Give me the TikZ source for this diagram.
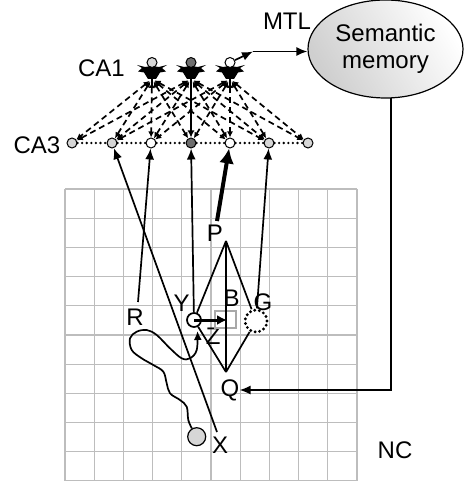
\documentclass[tikz,border=0pt]{standalone}
\usepackage{fontspec}
\setmainfont{Liberation Sans}
\usetikzlibrary{arrows.meta,shapes.geometric}
\definecolor{lgray}{HTML}{D6D6D6}
\definecolor{dgray}{HTML}{6E6E6E}
\definecolor{gridc}{HTML}{BDBDBD}
\definecolor{boxc}{HTML}{A8A8A8}
\begin{document}
\begin{tikzpicture}[x=1pt,y=-1pt,
  lab/.style={font=\fontsize{24}{28}\selectfont, inner sep=0},
  cell/.style={circle,draw,line width=1pt,minimum size=10pt,inner sep=0},
  dline/.style={dash pattern=on 6pt off 4pt, line width=1.7pt, shorten <=3pt,
     {Latex[length=6pt,width=6pt]}-{Latex[length=6pt,width=6pt]}},
  inp/.style={line width=1.7pt,-{Latex[length=11pt,width=9pt]}},
  thin/.style={line width=1.7pt},
  dotline/.style={line width=2.6pt, dash pattern=on 0pt off 4.6pt, line cap=round},
]
\useasboundingbox (0,0) rectangle (474,481);

% grid
\foreach \i in {0,...,10} {
  \draw[gridc, line width=1.1pt] ({65+29.2*\i},189) -- ({65+29.2*\i},481);
  \draw[gridc, line width=1.1pt] (65,{189+29.2*\i}) -- (357,{189+29.2*\i});
}

% CA3 cells
\foreach \x/\c/\n in {72/lgray/0,112/lgray/1,151/white/2,191/dgray/3,230/white/4,269/lgray/5,308/lgray/6}
  \node[cell,fill=\c] (c\n) at (\x,143) {};
\foreach \i/\j in {0/1,1/2,2/3,3/4,4/5,5/6}
  \draw[dotline] (c\i) -- (c\j);

% CA1 cells
\foreach \x/\c/\n in {152/lgray/0,191/dgray/1,230/white/2} {
  \fill (\x-15,65) -- (\x-10,68) -- (\x-14,71.5) -- (\x-8,72.5) -- (\x-4,79) -- (\x+4,79)
     -- (\x+8,72.5) -- (\x+14,71.5) -- (\x+10,68) -- (\x+15,65) -- (\x+7,67) -- (\x,66)
     -- (\x-7,67) -- cycle;
  \node[cell,fill=\c] (a\n) at (\x,62.5) {};
  \coordinate (s\n) at (\x,79);
}
\draw[thin] (s0) -- (152,86);
\draw[thin] (s2) -- (230,86);

% dashed CA1-CA3 links
\foreach \k/\i in {0/0,0/1,0/2,0/3,0/4,0/5,1/0,1/1,1/2,1/4,1/5,1/6,2/1,2/2,2/3,2/4,2/5,2/6}
  \draw[dline] (s\k) -- (c\i);
\draw[line width=1.7pt,-{Latex[length=7pt,width=7pt]}] (s1) -- (c3);

% labels
\node[lab] (ca1) at (101.5,68.5) {CA1};
\node[lab] (ca3) at (37,145) {CA3};
\node[lab] (mtl) at (287,21) {MTL};
\node[lab] (nc) at (395,450) {NC};

% semantic memory
\node[ellipse, draw, line width=1.2pt, minimum width=155pt, minimum height=98pt,
  align=center, font=\fontsize{24}{27}\selectfont,
  top color=white, bottom color=gray!38, shading angle=-60] (sem) at (385.5,49) {Semantic\\memory};
\coordinate (mtlc) at (253,51.5);
\draw[inp] (a2) -- (mtlc);
\draw[inp] (mtlc) -- (mtlc -| sem.west);

% NC elements
\node[lab] (R) at (135,317.5) {R};
\node[lab] (Y) at (181.7,303.5) {Y};
\node[lab] (P) at (215,233.3) {P};
\node[lab] (B) at (231.7,298.5) {B};
\node[lab] (G) at (263,302) {G};
\node[lab] (Z) at (213.3,336.7) {Z};
\node[lab] (Q) at (230,390) {Q};
\node[lab] (X) at (220,445) {X};

\node[draw=boxc, line width=2.5pt, minimum width=21pt, minimum height=17pt, inner sep=0] (bbox) at (225.5,319.5) {};
\node[circle, draw, line width=1.7pt, minimum size=14pt, inner sep=0] (yc) at (194,320) {};
\node[circle, dotline, line width=3.2pt, draw, minimum size=22pt, inner sep=0] (gc) at (256,321) {};
\node[circle, draw, line width=1.2pt, fill=lgray, minimum size=18pt, inner sep=0] (xc) at (196.7,436.7) {};

\coordinate (dT) at (226,241);
\coordinate (dB) at (226,372);
\coordinate (bend) at (227,320);
\draw[thin] (yc) -- (dT);
\draw[thin] (yc) -- (dB);
\draw[thin] (dT) -- (gc);
\draw[thin] (gc) -- (dB);
\draw[thin] (dT) -- (dB);
\draw[line width=3pt,-{Latex[length=10pt,width=10pt]}] (yc.center) -- (bend);

% inputs to CA3
\coordinate (rt) at (138,302);
\coordinate (xt) at (217,432);
\coordinate (pt) at (217,221);
\draw[inp] (rt) -- (c2);
\draw[inp] (xt) -- (c1);
\draw[inp] (yc) -- (c3);
\draw[line width=4pt,-{Latex[length=15pt,width=15pt]}] (pt) -- (c4);
\draw[inp] (gc) -- (c5);

% trajectory
\draw[line width=1.7pt,-{Latex[length=9pt,width=8pt]}] plot[smooth, tension=0.6] coordinates {
  (xc.120) (188.3,420) (186.7,406.7) (180,400) (170,393.3) (166.7,383.3) (163.3,371.7)
  (153.3,365) (141.7,358.3) (131.7,350) (130,338.3) (136.7,331.7) (146.7,330) (156.7,335)
  (170,348.3) (181.7,358.3) (190,358.3) (196.7,350) (197.5,331)};

% semantic memory to Q
\draw[line width=1.7pt,-{Latex[length=11pt,width=9pt]}] (sem.-84) |- (Q.east);
\end{tikzpicture}
\end{document}
